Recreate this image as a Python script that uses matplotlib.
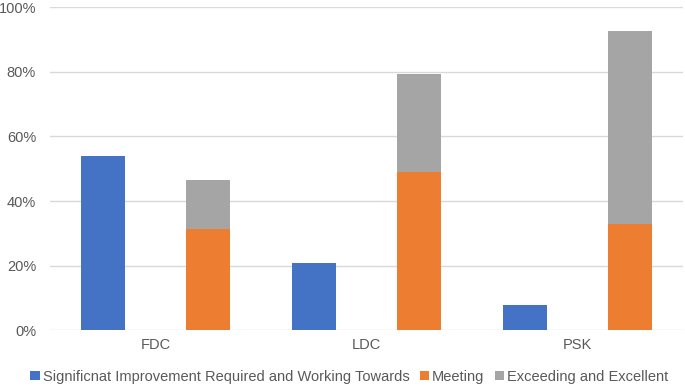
import matplotlib
matplotlib.use("Agg")
import matplotlib.pyplot as plt
import numpy as np

categories = ["FDC", "LDC", "PSK"]
improve = [54.0, 20.9, 7.8]
meeting = [31.3, 49.0, 32.9]
exceeding = [15.1, 30.4, 59.7]
yticks = [0, 20, 40, 60, 80, 100]

blue, orange, gray = "#4472C4", "#ED7D31", "#A5A5A5"
txt = "#595959"

plt.rcParams['font.family'] = ['Liberation Sans', 'DejaVu Sans']
fig = plt.figure(figsize=(6.85, 3.87), dpi=100)
ax = fig.add_axes([0.073, 0.147, 0.924, 0.834])

x = np.arange(len(categories))
w = 0.208
off = 0.25
ax.bar(x - off, improve, w, color=blue, label="Significnat Improvement Required and Working Towards", zorder=3)
ax.bar(x + off, meeting, w, color=orange, label="Meeting", zorder=3)
ax.bar(x + off, exceeding, w, bottom=meeting, color=gray, label="Exceeding and Excellent", zorder=3)

ax.set_xlim(-0.5, len(categories) - 0.5)
ax.set_ylim(0, 100)
ax.set_yticks(yticks)
ax.set_yticklabels([f"{v}%" for v in yticks])
ax.set_xticks(x)
ax.set_xticklabels(categories)
ax.yaxis.grid(True, color="#D9D9D9", linewidth=1.0, zorder=0)
for s in ax.spines.values():
    s.set_visible(False)
ax.tick_params(axis='both', length=0, labelsize=10.5, labelcolor=txt)
ax.tick_params(axis='y', pad=10)
ax.tick_params(axis='x', pad=6)

leg = fig.legend(loc="lower center", bbox_to_anchor=(0.51, -0.025), ncol=3, frameon=False,
                 fontsize=10.5, handlelength=0.65, handleheight=0.65, handletextpad=0.2,
                 columnspacing=0.7, labelcolor=txt)
fig.savefig("out.png", dpi=100)
